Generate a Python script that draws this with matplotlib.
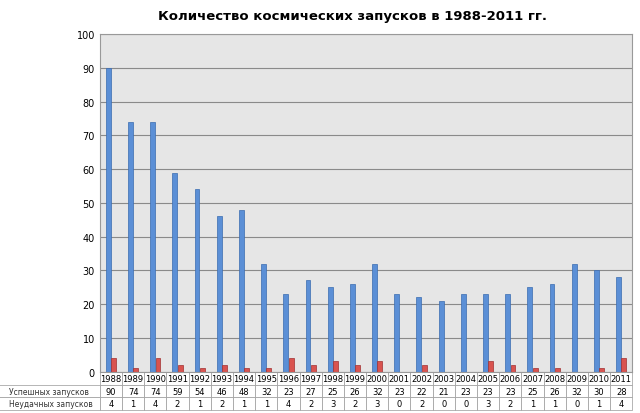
import matplotlib
matplotlib.use("Agg")
import matplotlib.pyplot as plt
import numpy as np

years = [str(y) for y in range(1988, 2012)]
success = [90,74,74,59,54,46,48,32,23,27,25,26,32,23,22,21,23,23,23,25,26,32,30,28]
fail = [4,1,4,2,1,2,1,1,4,2,3,2,3,0,2,0,0,3,2,1,1,0,1,4]
labels = ["Успешных запусков", "Неудачных запусков"]

fig = plt.figure(figsize=(6.4, 4.14), dpi=100)
ax = fig.add_axes([0.156, 0.10, 0.832, 0.815])
ax.set_facecolor("#e6e6e6")
x = np.arange(len(years))
w = 0.22
ax.bar(x - 0.12, success, w, color="#5b8fd6", edgecolor="#3a6bb0", linewidth=0.5)
ax.bar(x + 0.12, fail, w, color="#d9534f", edgecolor="#a03030", linewidth=0.5)
ax.set_xlim(-0.5, len(years) - 0.5)
ax.set_ylim(0, 100)
ax.set_yticks(range(0, 101, 10))
ax.tick_params(axis="y", labelsize=7, length=0)
ax.set_xticks([])
ax.grid(axis="y", color="#8a8a8a", linewidth=0.8)
ax.set_axisbelow(True)
for s in ax.spines.values():
    s.set_color("#999999")
fig.suptitle("Количество космических запусков в 1988-2011 гг.", x=0.55, y=0.975,
             fontsize=9.5, fontweight="bold")
tbl = ax.table(cellText=[success, fail], rowLabels=labels, colLabels=years,
               cellLoc="center", loc="bottom", bbox=[0, -0.115, 1, 0.115])
tbl.auto_set_font_size(False)
tbl.set_fontsize(6)
for (r, c), cell in tbl.get_celld().items():
    cell.set_edgecolor("#999999")
    cell.set_linewidth(0.5)
    if c == -1:
        cell.get_text().set_fontsize(5.5)
        cell.get_text().set_color("#333333")
fig.savefig("out.png", dpi=100)
